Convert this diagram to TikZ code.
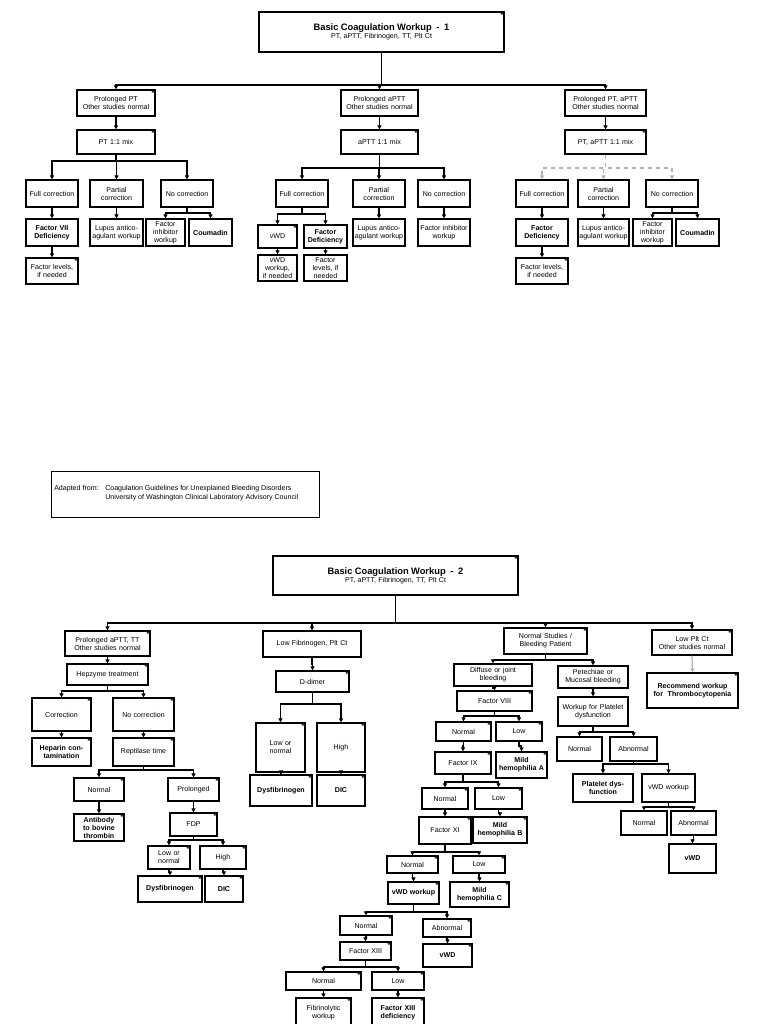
\documentclass[tikz,border=0pt]{standalone}
\usepackage{fontspec}
\setmainfont{Liberation Sans}
\usetikzlibrary{arrows.meta}
\tikzset{
 box/.style={draw,line width=0.9pt,align=center,inner sep=1pt,font=\fontsize{5.3}{6}\selectfont},
 ar/.style={line width=0.9pt,-{Triangle[width=3pt,length=3pt]}},
 gar/.style={line width=0.9pt,gray!60,dashed,-{Triangle[width=3pt,length=3pt]}},
 astr/.style={anchor=north east,inner sep=0.8pt,font=\fontsize{5}{5}\selectfont\bfseries}
}
\newcommand\B[6]{\node[box,minimum width=#4*0.75pt,minimum height=#5*0.75pt,text width=#4*0.75pt-2pt] (#1) at (#2,#3) {#6};}
\newcommand\St[1]{\node[astr] at (#1.north east) {*};}
\newcommand\Br[3]{\draw[ar] (#1.south) -- (#1.south |- 0,#2) -| (#3.north);}
\newcommand\Gb[3]{\draw[gar] (#1.south) -- (#1.south |- 0,#2) -| (#3.north);}
\begin{document}
\begin{tikzpicture}[x=0.75pt,y=-0.75pt]
\useasboundingbox[fill=white] (0,0) rectangle (768,1024);
% ---------- Part 1
\B{T1}{381.5}{32}{245}{40}{{\fontsize{7}{9}\selectfont\bfseries Basic Coagulation Workup \ - \ 1}\\PT, aPTT, Fibrinogen, TT, Plt Ct}\St{T1}
\B{A1}{116}{103}{78}{26}{Prolonged PT\\Other studies normal}\St{A1}
\B{A2}{379.5}{103}{77}{26}{Prolonged aPTT\\Other studies normal}
\B{A3}{605.5}{103}{81}{26}{Prolonged PT, aPTT\\Other studies normal}
\B{B1}{116}{142}{78}{24}{PT 1:1 mix}\St{B1}
\B{B2}{379.5}{142}{77}{24}{aPTT 1:1 mix}\St{B2}
\B{B3}{605.5}{142}{81}{24}{PT, aPTT 1:1 mix}\St{B3}
\B{C1}{52}{193.5}{52}{27}{Full correction}
\B{C2}{116.5}{193.5}{53}{27}{Partial\\correction}
\B{C3}{187}{193.5}{52}{27}{No correction}
\B{C4}{302}{193.5}{52}{27}{Full correction}
\B{C5}{379}{193.5}{52}{27}{Partial\\correction}
\B{C6}{444}{193.5}{52}{27}{No correction}
\B{C7}{542}{193.5}{52}{27}{Full correction}
\B{C8}{603.5}{193.5}{51}{27}{Partial\\correction}
\B{C9}{672}{193.5}{52}{27}{No correction}
\B{D1}{52}{232.5}{52}{27}{\textbf{Factor VII Deficiency}}
\B{D2}{116.5}{232.5}{53}{27}{Lupus anticoagulant workup}
\B{D3}{165.5}{232.5}{39}{27}{Factor inhibitor workup}
\B{D4}{210.5}{232.5}{43}{27}{\textbf{Coumadin}}
\B{D5}{277.5}{236.5}{39}{23}{vWD}\St{D5}
\B{D6}{325.5}{236.5}{43}{23}{\textbf{Factor Deficiency}}
\B{D7}{379}{232.5}{52}{27}{Lupus anticoagulant workup}
\B{D8}{444}{232.5}{52}{27}{Factor inhibitor workup}
\B{D9}{542}{232.5}{52}{27}{\textbf{Factor Deficiency}}
\B{D10}{603.5}{232.5}{51}{27}{Lupus anticoagulant workup}
\B{D11}{652.5}{232.5}{39}{27}{Factor inhibitor workup}
\B{D12}{697.5}{232.5}{43}{27}{\textbf{Coumadin}}
\B{E1}{52}{271}{52}{26}{Factor levels, if needed}\St{E1}
\B{E5}{277.5}{268}{39}{26}{vWD workup, if needed}
\B{E6}{325.5}{268}{43}{26}{Factor levels, if needed}
\B{E9}{542}{271}{52}{26}{Factor levels, if needed}\St{E9}
\Br{T1}{85}{A1}\Br{T1}{85}{A2}\Br{T1}{85}{A3}
\Br{A1}{122}{B1}\Br{A2}{122}{B2}\Br{A3}{122}{B3}
\Br{B1}{161}{C1}\Br{B1}{161}{C2}\Br{B1}{161}{C3}
\Br{B2}{168}{C4}\Br{B2}{168}{C5}\Br{B2}{168}{C6}
\Gb{B3}{168}{C7}\Gb{B3}{168}{C8}\Gb{B3}{168}{C9}
\Br{C1}{213}{D1}\Br{C2}{213}{D2}\Br{C3}{213}{D3}\Br{C3}{213}{D4}
\Br{C4}{214}{D5}\Br{C4}{214}{D6}\Br{C5}{213}{D7}\Br{C6}{213}{D8}
\Br{C7}{213}{D9}\Br{C8}{213}{D10}\Br{C9}{213}{D11}\Br{C9}{213}{D12}
\Br{D1}{252}{E1}\Br{D5}{251}{E5}\Br{D6}{251}{E6}\Br{D9}{252}{E9}
% ---------- Adapted
\node[draw,line width=0.6pt,minimum width=268*0.75pt,minimum height=46*0.75pt] (AD) at (185,494) {};
\node[anchor=west,font=\fontsize{5.3}{6.5}\selectfont,inner sep=0pt] (AD1) at (54,489) {Adapted from:};
\node[anchor=west,font=\fontsize{5.3}{6.5}\selectfont,inner sep=0pt,align=left] (AD2) at (105,493) {Coagulation Guidelines for Unexplained Bleeding Disorders\\University of Washington Clinical Laboratory Advisory Council};
% ---------- Part 2
\B{T2}{395.5}{575.5}{245}{39}{{\fontsize{7}{9}\selectfont\bfseries Basic Coagulation Workup \ - \ 2}\\PT, aPTT, Fibrinogen, TT, Plt Ct}\St{T2}
\B{F1}{107.5}{643.5}{85}{25}{Prolonged aPTT, TT\\Other studies normal}\St{F1}
\B{F2}{312}{644}{98}{26}{Low Fibrinogen, Plt Ct}
\B{F3}{545.5}{641}{83}{26}{Normal Studies /\\Bleeding Patient}\St{F3}
\B{F4}{692}{642.5}{80}{25}{Low Plt Ct\\Other studies normal}\St{F4}
\B{G1}{107.5}{674.5}{81}{21}{Hepzyme treatment}\St{G1}
\B{H1}{61.5}{714.5}{59}{33}{Correction}\St{H1}
\B{H2}{143.5}{714.5}{61}{33}{No correction}\St{H2}
\B{I1}{61.5}{752}{59}{28}{\textbf{Heparin contamination}}\St{I1}
\B{I2}{143.5}{752}{61}{28}{Reptilase time}\St{I2}
\B{J1}{99}{789.5}{50}{23}{Normal}\St{J1}
\B{J2}{193.5}{789.5}{51}{23}{Prolonged}\St{J2}
\B{K1}{99}{827.5}{50}{27}{\textbf{Antibody to bovine thrombin}}\St{K1}
\B{K2}{193.5}{824.5}{47}{23}{FDP}\St{K2}
\B{L1}{169}{857.5}{42}{23}{Low or\\normal}\St{L1}
\B{L2}{223}{857.5}{46}{23}{High}\St{L2}
\B{M1}{170}{889}{64}{26}{\textbf{Dysfibrinogen}}\St{M1}
\B{M2}{224}{889}{38}{26}{\textbf{DIC}}\St{M2}
\B{G2}{312.5}{681.5}{73}{21}{D-dimer}\St{G2}
\B{H3}{280.5}{747.5}{49}{49}{Low or\\normal}\St{H3}
\B{H4}{341}{747.5}{48}{49}{High}\St{H4}
\B{I3}{281}{790.5}{62}{31}{\textbf{Dysfibrinogen}}\St{I3}
\B{I4}{341}{790.5}{48}{31}{\textbf{DIC}}\St{I4}
\B{G3}{493}{675}{78}{22}{Diffuse or joint\\bleeding}
\B{G4}{593}{677}{70}{22}{Petechiae or\\Mucosal bleeding}
\B{G5}{494.5}{701}{75}{20}{Factor VIII}\St{G5}
\B{G6}{593}{711.5}{70}{29}{Workup for Platelet dysfunction}
\B{H5}{463.5}{731.5}{55}{19}{Normal}\St{H5}
\B{H6}{519}{731.5}{46}{19}{Low}\St{H6}
\B{I5}{463}{763}{56}{22}{Factor IX}\St{I5}
\B{I6}{521.5}{765}{51}{26}{\textbf{Mild hemophilia A}}\St{I6}
\B{J5}{445}{798.5}{46}{21}{Normal}\St{J5}
\B{J6}{498.5}{798.5}{47}{21}{Low}\St{J6}
\B{K5}{445}{830.5}{52}{27}{Factor XI}\St{K5}
\B{K6}{500}{830}{54}{26}{\textbf{Mild hemophilia B}}\St{K6}
\B{L5}{412.5}{864.5}{51}{17}{Normal}\St{L5}
\B{L6}{479}{864.5}{52}{17}{Low}\St{L6}
\B{M5}{413.5}{893}{51}{22}{\textbf{vWD workup}}\St{M5}
\B{M6}{479.5}{894.5}{59}{25}{\textbf{Mild hemophilia C}}\St{M6}
\B{N5}{366}{925.5}{52}{19}{Normal}\St{N5}
\B{N6}{447}{928}{48}{18}{Abnormal}\St{N6}
\B{O5}{365.5}{951}{51}{18}{Factor XIII}\St{O5}
\B{O6}{447.5}{955.5}{49}{23}{\textbf{vWD}}\St{O6}
\B{P5}{323.5}{981}{75}{18}{Normal}\St{P5}
\B{P6}{398}{981}{52}{18}{Low}\St{P6}
\B{Q5}{323.5}{1013}{55}{30}{Fibrinolytic\\workup\\[3pt]}\St{Q5}
\B{Q6}{398}{1013}{52}{30}{\textbf{Factor XIII}\\\textbf{deficiency}\\[3pt]}\St{Q6}
\B{H7}{579.5}{749}{45}{24}{Normal}
\B{H8}{633.5}{749}{47}{24}{Abnormal}
\B{I7}{603}{788}{60}{28}{\textbf{Platelet dysfunction}}
\B{I8}{668.5}{788}{53}{28}{vWD workup}
\B{J7}{644}{823}{46}{24}{Normal}
\B{J8}{693.5}{823}{45}{24}{Abnormal}
\B{K8}{692.5}{858.5}{47}{29}{\textbf{vWD}}
\B{G7}{692.5}{690.5}{91}{35}{\textbf{Recommend workup}\\\textbf{for \ Thrombocytopenia}}\St{G7}
\Br{T2}{623}{F1}\Br{T2}{623}{F2}\Br{T2}{623}{F3}\Br{T2}{623}{F4}
\Br{F1}{660}{G1}\Br{G1}{691}{H1}\Br{G1}{691}{H2}\Br{H1}{734}{I1}\Br{H2}{734}{I2}
\Br{I2}{770}{J1}\Br{I2}{770}{J2}\Br{J1}{808}{K1}\Br{J2}{808}{K2}
\Br{K2}{840}{L1}\Br{K2}{840}{L2}\Br{L1}{872}{M1}\Br{L2}{872}{M2}
\Br{F2}{664}{G2}\Br{G2}{704}{H3}\Br{G2}{704}{H4}\Br{H3}{773}{I3}\Br{H4}{773}{I4}
\Br{F3}{660}{G3}\Br{F3}{660}{G4}\Br{G3}{688}{G5}\Br{G5}{716}{H5}\Br{G5}{716}{H6}
\Br{H5}{746}{I5}\Br{H6}{746}{I6}\Br{I5}{782}{J5}\Br{I5}{782}{J6}
\Br{J5}{813}{K5}\Br{J6}{813}{K6}\Br{K5}{852}{L5}\Br{K5}{852}{L6}
\Br{L5}{878}{M5}\Br{L6}{878}{M6}\Br{M5}{912}{N5}\Br{M5}{912}{N6}
\Br{N5}{938}{O5}\Br{N6}{940}{O6}\Br{O5}{967}{P5}\Br{O5}{967}{P6}
\Br{P5}{994}{Q5}\Br{P6}{994}{Q6}
\Br{G4}{692}{G6}\Br{G6}{732}{H7}\Br{G6}{732}{H8}\Br{H8}{764}{I7}\Br{H8}{764}{I8}
\Br{I8}{807}{J7}\Br{I8}{807}{J8}\Br{J8}{840}{K8}
\draw[ar,draw=gray!60] (F4.south) -- (G7.north);
\end{tikzpicture}
\end{document}
